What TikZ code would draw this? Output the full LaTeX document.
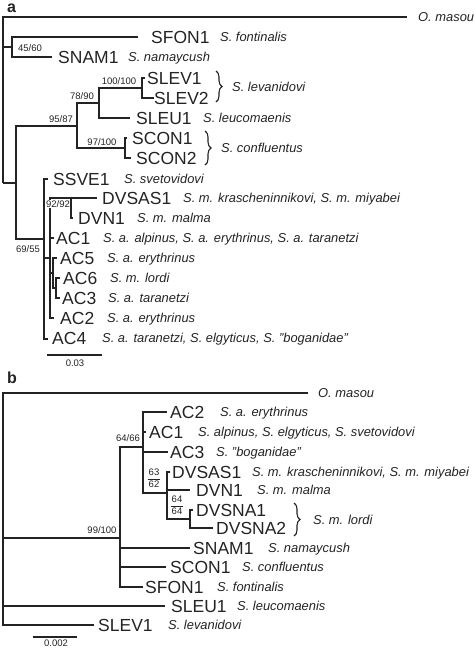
\documentclass[tikz,border=0pt]{standalone}
\usepackage{fontspec}
\setmainfont{Liberation Sans}
\usetikzlibrary{decorations.pathreplacing}
\definecolor{treegray}{RGB}{35,35,35}

\begin{document}
\begin{tikzpicture}[x=1pt, y=-1pt,
 br/.style={draw=treegray, line width=1.2pt},
 rootbr/.style={draw=treegray, line width=2.2pt},
 leaf/.style={anchor=base west, inner sep=0pt, yshift=-6.3pt, text=treegray, font=\fontsize{17.5}{18}\selectfont},
 sp/.style={anchor=base west, inner sep=0pt, yshift=-4.6pt, text=treegray, font=\fontsize{12.9}{14}\selectfont\itshape},
 bs/.style={inner sep=0pt, text=treegray, font=\fontsize{9.5}{11.5}\selectfont},
 grp/.style={draw=treegray, line width=1.1pt, decorate, decoration={brace, amplitude=6pt}},
 panel/.style={anchor=base west, inner sep=0pt, text=treegray, font=\fontsize{16}{16}\selectfont\bfseries}]
 \path[use as bounding box, clip] (0,0) rectangle (474,648);

 % panel a
 \node[panel] (lbla) at (7,12) {a};
 \coordinate (ra) at (3,183);
 \coordinate (tOMa) at (407,17);
 \coordinate (nSF) at (12,47);
 \coordinate (tSFON1a) at (138,37);
 \coordinate (tSNAM1a) at (52,57);
 \coordinate (nIn) at (16,183);
 \coordinate (n95) at (77,126);
 \coordinate (n78) at (99,103);
 \coordinate (nLV) at (142,88);
 \coordinate (tSLEV1a) at (145,78);
 \coordinate (tSLEV2a) at (154,98);
 \coordinate (tSLEU1a) at (130,118);
 \coordinate (nSC) at (125,148);
 \coordinate (tSCON1a) at (127,138);
 \coordinate (tSCON2a) at (131,158);
 \coordinate (nA) at (44,239);
 \coordinate (tSSVE1a) at (48,179);
 \coordinate (tAC4a) at (48,339);
 \coordinate (nB) at (50,258);
 \coordinate (n92) at (71,198);
 \coordinate (tDVSAS1a) at (97,198);
 \coordinate (tDVN1a) at (73,218);
 \coordinate (tAC1a) at (54,238);
 \coordinate (nC) at (53,273);
 \coordinate (tAC5a) at (57,258);
 \coordinate (nD) at (56,288);
 \coordinate (tAC6a) at (60,278);
 \coordinate (tAC3a) at (60,298);
 \coordinate (tAC2a) at (54,318);
 \foreach \p/\c in {ra/tOMa, ra/nSF, ra/nIn, nSF/tSFON1a, nSF/tSNAM1a, nIn/n95, nIn/nA,
   n95/n78, n95/nSC, n78/nLV, n78/tSLEU1a, nLV/tSLEV1a, nLV/tSLEV2a, nSC/tSCON1a, nSC/tSCON2a,
   nA/tSSVE1a, nA/nB, nA/tAC4a, nB/n92, nB/tAC1a, nB/nC, nB/tAC2a, n92/tDVSAS1a, n92/tDVN1a,
   nC/tAC5a, nC/nD, nD/tAC6a, nD/tAC3a}
   \draw[br] (\p) |- (\c);
 \draw[rootbr] (ra |- tOMa) -- (ra);

 \node[sp] (spOMa) at (418,17) {O. masou};
 \node[leaf] (SFON1a) at (151,37) {SFON1};
 \node[sp] (spSFON1a) at (220,37) {S. fontinalis};
 \node[leaf] (SNAM1a) at (58,57) {SNAM1};
 \node[sp] (spSNAM1a) at (128,57) {S. namaycush};
 \node[leaf] (SLEV1a) at (147,78) {SLEV1};
 \node[leaf] (SLEV2a) at (154,98) {SLEV2};
 \draw[grp] (216,71) -- (216,102);
 \node[sp] (spSLEVa) at (232,87) {S. levanidovi};
 \node[leaf] (SLEU1a) at (136,118) {SLEU1};
 \node[sp] (spSLEU1a) at (203,118) {S. leucomaenis};
 \node[leaf] (SCON1a) at (132,138) {SCON1};
 \node[leaf] (SCON2a) at (136,158) {SCON2};
 \draw[grp] (205,131) -- (205,165);
 \node[sp] (spSCONa) at (221,148) {S. confluentus};
 \node[leaf] (SSVE1a) at (53,179) {SSVE1};
 \node[sp] (spSSVE1a) at (124,179) {S. svetovidovi};
 \node[leaf] (DVSAS1a) at (102,198) {DVSAS1};
 \node[sp] (spDVSAS1a) at (183,198) {S. m. krascheninnikovi, S. m. miyabei};
 \node[leaf] (DVN1a) at (78,218) {DVN1};
 \node[sp] (spDVN1a) at (137,218) {S. m. malma};
 \node[leaf] (AC1a) at (56,238) {AC1};
 \node[sp] (spAC1a) at (103,238) {S. a. alpinus, S. a. erythrinus, S. a. taranetzi};
 \node[leaf] (AC5a) at (60,258) {AC5};
 \node[sp] (spAC5a) at (107,258) {S. a. erythrinus};
 \node[leaf] (AC6a) at (63,278) {AC6};
 \node[sp] (spAC6a) at (110,278) {S. m. lordi};
 \node[leaf] (AC3a) at (62,298) {AC3};
 \node[sp] (spAC3a) at (108,298) {S. a. taranetzi};
 \node[leaf] (AC2a) at (60,318) {AC2};
 \node[sp] (spAC2a) at (107,318) {S. a. erythrinus};
 \node[leaf] (AC4a) at (52,338) {AC4};
 \node[sp] (spAC4a) at (102,338) {S. a. taranetzi, S. elgyticus, S. "boganidae"};

 \node[bs] (bs4560) at (30,48) {45/60};
 \node[bs] (bs100100) at (119,81) {100/100};
 \node[bs] (bs7890) at (82,96) {78/90};
 \node[bs] (bs9587) at (61,119) {95/87};
 \node[bs] (bs97100) at (102,142) {97/100};
 \node[bs, fill=white, inner sep=0.6pt] (bs9292) at (58,204) {92/92};
 \node[bs] (bs6955) at (28,249) {69/55};

 \coordinate (sa1) at (47,355);
 \coordinate (sa2) at (102,355);
 \draw[br] (sa1) -- (sa2);
 \node[bs] (scla) at (75,363) {0.03};

 % panel b
 \node[panel] (lblb) at (7,383) {b};
 \coordinate (rb) at (3,538);
 \coordinate (tOMb) at (308,393);
 \coordinate (n99) at (120,538);
 \coordinate (tSLEU1b) at (165,606);
 \coordinate (tSLEV1b) at (94,625);
 \coordinate (n64) at (143,447);
 \coordinate (tSNAM1b) at (190,548);
 \coordinate (tSCON1b) at (166,567);
 \coordinate (tSFON1b) at (143,587);
 \coordinate (tAC2b) at (167,412);
 \coordinate (tAC1b) at (146,432);
 \coordinate (tAC3b) at (168,452);
 \coordinate (n63) at (167,493);
 \coordinate (tDVSAS1b) at (170,472);
 \coordinate (tDVN1b) at (190,490);
 \coordinate (nDS) at (190,519);
 \coordinate (tDVSNA1) at (193,510);
 \coordinate (tDVSNA2) at (213,528);
 \foreach \p/\c in {rb/tOMb, rb/n99, rb/tSLEU1b, rb/tSLEV1b, n99/n64, n99/tSNAM1b, n99/tSCON1b,
   n99/tSFON1b, n64/tAC2b, n64/tAC1b, n64/tAC3b, n64/n63, n63/tDVSAS1b, n63/tDVN1b, n63/nDS,
   nDS/tDVSNA1, nDS/tDVSNA2}
   \draw[br] (\p) |- (\c);
 \draw[rootbr] (rb |- tOMb) -- (rb |- tSLEV1b);

 \node[sp] (spOMb) at (318,393) {O. masou};
 \node[leaf] (AC2b) at (170,412) {AC2};
 \node[sp] (spAC2b) at (220,412) {S. a. erythrinus};
 \node[leaf] (AC1b) at (149,432) {AC1};
 \node[sp] (spAC1b) at (198,432) {S. alpinus, S. elgyticus, S. svetovidovi};
 \node[leaf] (AC3b) at (170,452) {AC3};
 \node[sp] (spAC3b) at (216,452) {S. "boganidae"};
 \node[leaf] (DVSAS1b) at (172,472) {DVSAS1};
 \node[sp] (spDVSAS1b) at (252,472) {S. m. krascheninnikovi, S. m. miyabei};
 \node[leaf] (DVN1b) at (196,490) {DVN1};
 \node[sp] (spDVN1b) at (257,490) {S. m. malma};
 \node[leaf] (DVSNA1) at (196,510) {DVSNA1};
 \node[leaf] (DVSNA2) at (216,528) {DVSNA2};
 \draw[grp] (294,503) -- (294,536);
 \node[sp] (spDVSNA) at (313,520) {S. m. lordi};
 \node[leaf] (SNAM1b) at (193,548) {SNAM1};
 \node[sp] (spSNAM1b) at (268,548) {S. namaycush};
 \node[leaf] (SCON1b) at (170,567) {SCON1};
 \node[sp] (spSCON1b) at (242,567) {S. confluentus};
 \node[leaf] (SFON1b) at (145,587) {SFON1};
 \node[sp] (spSFON1b) at (217,587) {S. fontinalis};
 \node[leaf] (SLEU1b) at (171,606) {SLEU1};
 \node[sp] (spSLEU1b) at (237,606) {S. leucomaenis};
 \node[leaf] (SLEV1b) at (98,625) {SLEV1};
 \node[sp] (spSLEV1b) at (168,625) {S. levanidovi};

 \node[bs] (bs99100) at (102,530) {99/100};
 \node[bs] (bs6466) at (128,438) {64/66};
 \node[bs] (bs6362) at (154,479) {\setlength\tabcolsep{1pt}\begin{tabular}{c}63\\\hline 62\end{tabular}};
 \node[bs] (bs6464) at (177,506) {\setlength\tabcolsep{1pt}\begin{tabular}{c}64\\\hline 64\end{tabular}};

 \coordinate (sb1) at (33,637);
 \coordinate (sb2) at (77,637);
 \draw[br] (sb1) -- (sb2);
 \node[bs] (sclb) at (56,643) {0.002};
\end{tikzpicture}
\end{document}
